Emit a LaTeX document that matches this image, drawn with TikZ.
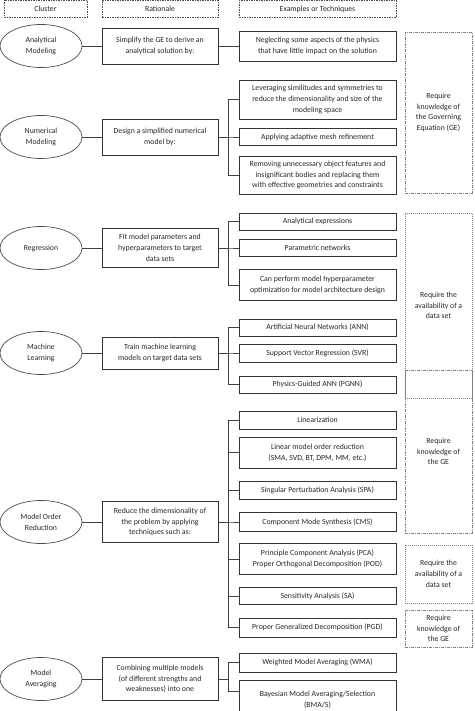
\documentclass[tikz,border=0pt]{standalone}
\usepackage{fontspec}
\setmainfont{Carlito}
\usetikzlibrary{shapes.geometric,calc}
\begin{document}
\begin{tikzpicture}[x=1pt,y=-1pt,
  every node/.style={font=\fontsize{7.8}{10.8}\selectfont, text=black!85},
  clus/.style={ellipse, draw=black!70, line width=0.7pt, minimum width=82pt, minimum height=43pt, inner sep=0pt, align=center},
  ratbox/.style={rectangle, draw=black!80, line width=0.8pt, minimum width=116pt, inner sep=0pt, align=center},
  exbox/.style={rectangle, draw=black!80, line width=0.8pt, minimum width=157pt, inner sep=0pt, align=center},
  hdr/.style={rectangle, draw=black!70, line width=0.6pt, dash pattern=on 1.5pt off 1pt, minimum height=17pt, inner sep=0pt},
  gebox/.style={rectangle, draw=black!50, line width=0.7pt, dash pattern=on 3pt off 1pt on 1pt off 1pt, minimum width=67pt, inner sep=0pt, align=center},
  dsbox/.style={rectangle, draw=black!50, line width=0.7pt, dash pattern=on 1pt off 1pt, minimum width=67pt, inner sep=0pt, align=center},
  conn/.style={draw=black!75, line width=0.8pt}
]
\useasboundingbox (0,0) rectangle (474,711);

% headers
\node[hdr, minimum width=83pt] (hc) at (45.5,9) {Cluster};
\node[hdr, minimum width=116pt] (hr) at (160,9) {Rationale};
\node[hdr, minimum width=157pt] (he) at (317.5,9) {Examples or Techniques};

% bus coordinate
\coordinate (bus) at (228,0);

% right requirement boxes
\node[gebox, minimum height=161pt] (ge1) at (438.5,112.5) {Require\\knowledge of\\the Governing\\Equation (GE)};
\node[dsbox, minimum height=185pt] (ds1) at (438.5,305.5) {Require the\\availability of a\\data set};
\node[gebox, minimum height=163pt] (ge2) at (438.5,451.5) {Require\\knowledge of\\the GE};
\node[dsbox, minimum height=58pt] (ds2) at (438.5,574) {Require the\\availability of a\\data set};
\node[gebox, minimum height=37pt] (ge3) at (438.5,628.5) {Require\\knowledge of\\the GE};

% Row 1: Analytical Modeling
\node[clus] (c1) at (41,46) {Analytical\\Modeling};
\node[ratbox, minimum height=36pt] (r1) at (160,46) {Simplify the GE to derive an\\analytical solution by:};
\node[exbox, minimum height=30pt] (e11) at (317.5,46) {Neglecting some aspects of the physics\\that have little impact on the solution};
\draw[conn] (c1.east) -- (r1.west);
\draw[conn] (r1.east) -- (e11.west);

% Row 2: Numerical Modeling
\node[clus] (c2) at (41,137) {Numerical\\Modeling};
\node[ratbox, minimum height=36pt] (r2) at (160,137) {Design a simplified numerical\\model by:};
\node[exbox, minimum height=39pt] (e21) at (317.5,99.5) {Leveraging similitudes and symmetries to\\reduce the dimensionality and size of the\\modeling space};
\node[exbox, minimum height=17pt] (e22) at (317.5,137) {Applying adaptive mesh refinement};
\node[exbox, minimum height=38pt] (e23) at (317.5,175) {Removing unnecessary object features and\\insignificant bodies and replacing them\\with effective geometries and constraints};
\draw[conn] (c2.east) -- (r2.west);
\foreach \e in {e21,e22,e23} \draw[conn] (r2.east) -- (bus |- r2.east) |- (\e.west);

% Row 3: Regression
\node[clus] (c3) at (41,248) {Regression};
\node[ratbox, minimum height=39pt] (r3) at (160,248) {Fit model parameters and\\hyperparameters to target\\data sets};
\node[exbox, minimum height=17pt] (e31) at (317.5,221.5) {Analytical expressions};
\node[exbox, minimum height=17pt] (e32) at (317.5,248) {Parametric networks};
\node[exbox, minimum height=31pt] (e33) at (317.5,285) {Can perform model hyperparameter\\optimization for model architecture design};
\draw[conn] (c3.east) -- (r3.west);
\foreach \e in {e31,e32,e33} \draw[conn] (r3.east) -- (bus |- r3.east) |- (\e.west);

% Row 4: Machine Learning
\node[clus] (c4) at (41,353) {Machine\\Learning};
\node[ratbox, minimum height=32pt] (r4) at (160,353) {Train machine learning\\models on target data sets};
\node[exbox, minimum height=17pt] (e41) at (317.5,327.5) {Artificial Neural Networks (ANN)};
\node[exbox, minimum height=18pt] (e42) at (317.5,353) {Support Vector Regression (SVR)};
\node[exbox, minimum height=17pt] (e43) at (317.5,384.5) {Physics-Guided ANN (PGNN)};
\draw[conn] (c4.east) -- (r4.west);
\foreach \e in {e41,e42,e43} \draw[conn] (r4.east) -- (bus |- r4.east) |- (\e.west);

% Row 5: Model Order Reduction
\node[clus] (c5) at (41,522) {Model Order\\Reduction};
\node[ratbox, minimum height=41pt] (r5) at (160,522) {Reduce the dimensionality of\\the problem by applying\\techniques such as:};
\node[exbox, minimum height=18pt] (e51) at (317.5,420) {Linearization};
\node[exbox, minimum height=31pt] (e52) at (317.5,452.5) {Linear model order reduction\\(SMA, SVD, BT, DPM, MM, etc.)};
\node[exbox, minimum height=18pt] (e53) at (317.5,490) {Singular Perturbation Analysis (SPA)};
\node[exbox, minimum height=19pt] (e54) at (317.5,522) {Component Mode Synthesis (CMS)};
\node[exbox, minimum height=31pt] (e55) at (317.5,559) {Principle Component Analysis (PCA)\\Proper Orthogonal Decomposition (POD)};
\node[exbox, minimum height=17pt] (e56) at (317.5,596) {Sensitivity Analysis (SA)};
\node[exbox, minimum height=19pt] (e57) at (317.5,627.5) {Proper Generalized Decomposition (PGD)};
\draw[conn] (c5.east) -- (r5.west);
\foreach \e in {e51,e52,e53,e54,e55,e56,e57} \draw[conn] (r5.east) -- (bus |- r5.east) |- (\e.west);

% Row 6: Model Averaging
\node[clus] (c6) at (41,679) {Model\\Averaging};
\node[ratbox, minimum height=43pt] (r6) at (160,679) {Combining multiple models\\(of different strengths and\\weaknesses) into one};
\node[exbox, minimum height=19pt] (e61) at (317.5,662.5) {Weighted Model Averaging (WMA)};
\node[exbox, minimum height=40pt] (e62) at (317.5,700) {Bayesian Model Averaging/Selection\\(BMA/S)};
\draw[conn] (c6.east) -- (r6.west);
\draw[conn] (r6.east) -- (bus |- r6.east) |- (e61.west);
\draw[conn] (r6.east) -- (bus |- r6.east) |- ([yshift=-12pt]e62.north west);
\end{tikzpicture}
\end{document}
